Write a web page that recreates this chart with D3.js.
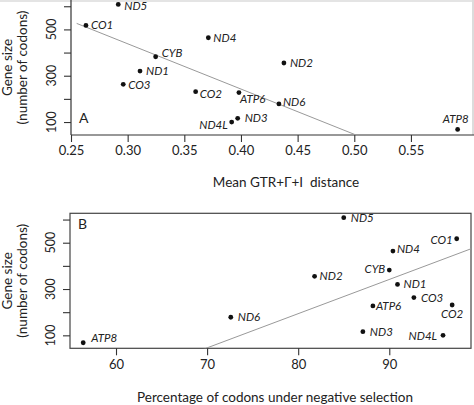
<!DOCTYPE html>
<html><head><meta charset="utf-8">
<script src="https://cdn.jsdelivr.net/npm/d3@7"></script>
<style>body{margin:0;background:#fff}svg{display:block}</style>
</head><body>
<svg id="c" width="474" height="405"></svg>
<script>
// Genes
const genes = ["ND5","CO1","ND4","CYB","ND1","CO3","CO2","ATP6","ND6","ND2","ND3","ND4L","ATP8"];
// Gene size (codons)
const geneSize = [608,517,464,382,320,263,231,227,178,355,116,100,68];
// Panel A: mean GTR+G+I distance
const distA = [0.2917,0.2632,0.3712,0.3247,0.3109,0.2961,0.3600,0.3982,0.4335,0.4379,0.3971,0.3918,0.5912];
// Panel B: % codons under negative selection
const pctB = [85.0,97.4,90.4,90.0,90.9,92.7,96.9,88.2,72.6,81.8,87.1,95.9,56.4];
// Regression lines [intercept, slope]
const fitA = [1024.5,-1955];
const fitB = [-988,14.77];
const xTicksA = [0.25,0.30,0.35,0.40,0.45,0.50,0.55];
const xTicksB = [60,70,80,90];
const yTicks = [100,200,300,400,500,600];
const yLabels = [100,300,500];
// label placement: [dx, dy, anchor]
const labA = {ND5:[6,2,"start"],CO1:[5,0,"start"],ND4:[5,0,"start"],CYB:[6,-4,"start"],ND1:[6,0,"start"],CO3:[5,1,"start"],CO2:[4,2,"start"],ATP6:[1,6,"start"],ND6:[4,-2,"start"],ND2:[6,0,"start"],ND3:[7,0,"start"],ND4L:[-4,3,"end"],ATP8:[-2,-10,"middle"]};
const labB = {ND5:[7,0,"start"],CO1:[-4,1,"end"],ND4:[4,-2,"start"],CYB:[-4,-1,"end"],ND2:[5,0,"start"],ND1:[6,0,"start"],CO3:[7,0,"start"],ATP6:[3,0,"start"],CO2:[0,9,"middle"],ND3:[7,0,"start"],ND4L:[-6,1,"end"],ND6:[7,0,"start"],ATP8:[8,-5,"start"]};

const svg = d3.select("#c");
const font = "Lato, 'Open Sans', sans-serif";
const yDom = [44,627];

function panel(o){
  const x = d3.scaleLinear().domain(o.xDom).range([o.left,o.right]);
  const y = d3.scaleLinear().domain(yDom).range([o.bottom,o.top]);
  const g = svg.append("g");
  if(o.box){
    g.append("rect").attr("x",o.left).attr("y",o.top).attr("width",o.right-o.left).attr("height",o.bottom-o.top)
      .attr("fill","none").attr("stroke","#444").attr("stroke-width",1.2);
  } else {
    g.append("rect").attr("x",0).attr("y",0).attr("width",474).attr("height",2).attr("fill","#e4e4e4");
    g.append("rect").attr("x",472).attr("y",0).attr("width",2).attr("height",o.bottom).attr("fill","#dcdcdc");
    g.append("line").attr("x1",o.left).attr("x2",474).attr("y1",o.bottom).attr("y2",o.bottom).attr("stroke","#333").attr("stroke-width",1.2);
    g.append("line").attr("x1",o.left).attr("x2",o.left).attr("y1",0).attr("y2",o.bottom).attr("stroke","#333").attr("stroke-width",1.2);
  }
  const xa = g.append("g").attr("transform",`translate(0,${o.bottom})`)
    .call(d3.axisBottom(x).tickValues(o.xTicks).tickSize(7).tickPadding(4).tickFormat(o.fmt));
  xa.select(".domain").remove();
  xa.selectAll("line").attr("stroke","#333").attr("stroke-width",1.1);
  xa.selectAll("text").attr("font-family",font).attr("font-size",13).attr("fill","#222");
  const ya = g.append("g").attr("transform",`translate(${o.left},0)`)
    .call(d3.axisLeft(y).tickValues(yTicks).tickSize(7).tickFormat(""));
  ya.select(".domain").remove();
  ya.selectAll("line").attr("stroke","#333").attr("stroke-width",1.1);
  g.selectAll(".ylab").data(yLabels).join("text")
    .attr("transform",d=>`translate(${o.left-15},${y(d)}) rotate(-90)`)
    .attr("text-anchor","middle").attr("font-family",font).attr("font-size",12.5).attr("fill","#222").text(d=>d);
  const cy = (o.top+o.bottom)/2;
  g.append("text").attr("transform",`translate(12,${cy}) rotate(-90)`).attr("text-anchor","middle")
    .attr("font-family",font).attr("font-size",13.5).attr("fill","#222").text("Gene size");
  g.append("text").attr("transform",`translate(27,${cy}) rotate(-90)`).attr("text-anchor","middle")
    .attr("font-family",font).attr("font-size",13.5).attr("fill","#222").text("(number of codons)");
  g.append("text").attr("x",o.titleX).attr("y",o.titleY).attr("text-anchor","middle")
    .attr("font-family",font).attr("font-size",13.5).attr("fill","#222").text(o.title);
  g.append("text").attr("x",o.left+8).attr("y",o.letterY).attr("font-family",font).attr("font-size",14).attr("fill","#222").text(o.letter);
  const cid = "clip"+o.letter;
  svg.append("clipPath").attr("id",cid).append("rect").attr("x",o.left).attr("y",o.top).attr("width",o.right-o.left).attr("height",o.bottom-o.top);
  const f = v=>o.fit[0]+o.fit[1]*v;
  g.append("line").attr("clip-path",`url(#${cid})`)
    .attr("x1",x(o.lineX[0])).attr("y1",y(f(o.lineX[0]))).attr("x2",x(o.lineX[1])).attr("y2",y(f(o.lineX[1])))
    .attr("stroke","#999").attr("stroke-width",1);
  const data = genes.map((n,i)=>({n, xv:o.xs[i], yv:geneSize[i]}));
  g.selectAll("circle.p").data(data).join("circle").attr("cx",d=>x(d.xv)).attr("cy",d=>y(d.yv)).attr("r",2.4).attr("fill","#111");
  g.selectAll("text.l").data(data).join("text")
    .attr("x",d=>x(d.xv)+o.lab[d.n][0]).attr("y",d=>y(d.yv)+o.lab[d.n][1]).attr("dy","0.35em")
    .attr("text-anchor",d=>o.lab[d.n][2])
    .attr("font-family",font).attr("font-style","italic").attr("font-size",11.5).attr("fill","#222").text(d=>d.n);
}

panel({xDom:[0.25,0.60433],left:71,right:472.5,top:0,bottom:135,box:false,xTicks:xTicksA,fmt:d3.format(".2f"),
  xs:distA,lab:labA,fit:fitA,lineX:[0.255,0.6],title:"Mean GTR+Γ+I\u00a0\u00a0distance",titleX:286,titleY:187,letter:"A",letterY:123});
panel({xDom:[54.95,98.97],left:70,right:471,top:213.3,bottom:348.3,box:true,xTicks:xTicksB,fmt:d3.format("d"),
  xs:pctB,lab:labB,fit:fitB,lineX:[60,99],title:"Percentage of codons under negative selection",titleX:275,titleY:402,letter:"B",letterY:229});
</script>
</body></html>
